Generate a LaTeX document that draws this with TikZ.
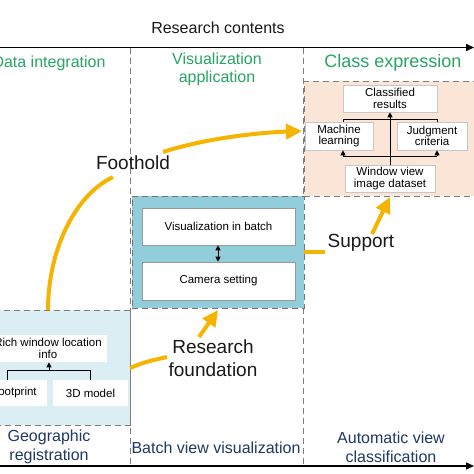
\documentclass[tikz,border=0pt]{standalone}
\usepackage{fontspec}
\setmainfont{Liberation Sans}
\usetikzlibrary{arrows.meta}
\definecolor{hgreen}{RGB}{40,165,100}
\definecolor{navy}{RGB}{31,56,100}
\definecolor{peach}{RGB}{251,229,214}
\definecolor{midblue}{RGB}{146,205,220}
\definecolor{paleblue}{RGB}{218,238,243}
\definecolor{gold}{RGB}{245,180,0}
\definecolor{dgray}{RGB}{125,125,125}
\tikzset{
  dashln/.style={draw=dgray, line width=1pt, dash pattern=on 6pt off 4pt},
  panel/.style={dashln, inner sep=0pt},
  wbox/.style={draw=black!22, fill=white, line width=0.6pt, inner sep=0pt, align=center, font=\fontsize{11.5}{11.5}\selectfont},
  head/.style={text=hgreen, font=\fontsize{16}{18}\selectfont, align=center},
  foot/.style={text=navy, font=\fontsize{16}{19}\selectfont, align=center},
  lbl/.style={font=\fontsize{19}{23}\selectfont, align=center, text=black!90},
  gar/.style={draw=gold, line width=4pt, -{Triangle[length=16pt,width=15pt]}},
  gln/.style={draw=gold, line width=4pt},
  axisar/.style={draw=black, line width=1.5pt, -{Triangle[length=8pt,width=7pt]}},
  sar/.style={draw=black, line width=1pt, -{Triangle[length=5pt,width=5pt]}},
  sln/.style={draw=black, line width=1pt},
  dar/.style={draw=black, line width=1pt, {Triangle[length=5pt,width=5pt]}-{Triangle[length=5pt,width=5pt]}},
}
\begin{document}
\begin{tikzpicture}[x=1pt,y=-1pt]
\useasboundingbox (0,0) rectangle (474,474);
\fill[white] (0,0) rectangle (474,474);

% vertical separators
\coordinate (v1t) at (130,47.5);
\coordinate (v1b) at (130,466);
\coordinate (v2t) at (303,47.5);
\coordinate (v2b) at (303,466);
\draw[dashln] (v1t) -- (v1b);
\draw[dashln] (v2t) -- (v2b);

% axes
\node[font=\fontsize{16}{19}\selectfont, text=black!90] (rc) at (218,28) {Research contents};
\coordinate (a1l) at (0,47.5);
\coordinate (a1r) at (474,47.5);
\coordinate (a2l) at (0,466);
\coordinate (a2r) at (474,466);
\draw[axisar] (a1l) -- (a1r);
\draw[axisar] (a2l) -- (a2r);

% headings
\node[head] (h1) at (49,63) {Data integration};
\node[head] (h2) at (217,69) {Visualization\\application};
\node[head, font=\fontsize{18}{20}\selectfont] (h3) at (393,63) {Class expression};

% footers
\node[foot] (f1) at (49,446.5) {Geographic\\registration};
\node[foot] (f2) at (216,448) {Batch view visualization};
\node[foot] (f3) at (391,447.5) {Automatic view\\classification};

% panels
\node[panel, fill=paleblue, minimum width=145pt, minimum height=115pt] (geo) at (57.5,367.5) {};
\node[panel, fill=midblue, draw=black!55, minimum width=172pt, minimum height=112pt] (vis) at (218,252) {};
\node[panel, fill=peach, minimum width=180pt, minimum height=115pt] (cls) at (394,138.5) {};

% geographic panel content
\node[wbox, draw=none, minimum width=118pt, minimum height=27pt] (rich) at (48,348.5) {Rich window location\\info};
\node[wbox, draw=none, minimum width=66pt, minimum height=26pt] (fp) at (14,393) {Footprint};
\node[wbox, draw=none, minimum width=75pt, minimum height=26pt] (md) at (90.5,393) {3D model};
\coordinate (gb) at (49,370);
\draw[sln] (fp.north -| 7,0) -- (7,370) -- (90,370) -- (md.north -| 90,0);
\draw[sar] (gb) -- (rich.south -| gb);

% visualization panel content
\node[wbox, draw=black!40, minimum width=153pt, minimum height=37pt] (vb) at (218.5,226.5) {Visualization in batch};
\node[wbox, draw=black!40, minimum width=153pt, minimum height=38pt] (cs) at (218.5,281) {Camera setting};
\draw[dar] (vb.south -| 218,0) -- (cs.north -| 218,0);

% class panel content
\node[wbox, minimum width=94pt, minimum height=27pt] (cr) at (390,98.5) {Classified\\results};
\node[wbox, minimum width=68pt, minimum height=28pt] (ml) at (339,136) {Machine\\learning};
\node[wbox, minimum width=70pt, minimum height=28pt] (jc) at (432,136) {Judgment\\criteria};
\node[wbox, minimum width=90pt, minimum height=27pt] (wv) at (390,178.5) {Window view\\image dataset};
\draw[sln] (ml.north -| 343,0) -- (343,119) -- (437,119) -- (jc.north -| 437,0);
\draw[sar] (wv.north) -- (cr.south);
\draw[sln] (343,156) -- (437,156);
\coordinate (b1) at (343,156);
\coordinate (b2) at (437,156);
\draw[sar] (b1) -- (ml.south -| b1);
\draw[sar] (b2) -- (jc.south -| b2);

% orange connectors and labels
\node[lbl] (fh) at (133,163) {Foothold};
\node[lbl] (sp) at (361,243) {Support};
\node[lbl] (rf) at (213,358) {Research\\foundation};

\coordinate (g1) at (48,310);
\coordinate (g2) at (113,177);
\coordinate (g3) at (163,152);
\coordinate (g4) at (302,131);
\draw[gln] (g1) .. controls (48,250) and (75,195) .. (g2);
\draw[gar] (g3) .. controls (200,140) and (250,133) .. (g4);

\coordinate (s1) at (304,252);
\coordinate (s2) at (325,252);
\coordinate (s3) at (372,234);
\coordinate (s4) at (390,197);
\draw[gln] (s1) -- (s2);
\draw[gar] (s3) -- (s4);

\coordinate (r1) at (130,368);
\coordinate (r2) at (167,357);
\coordinate (r3) at (199,337);
\coordinate (r4) at (218,310);
\draw[gln] (r1) .. controls (145,362) .. (r2);
\draw[gar] (r3) -- (r4);
\end{tikzpicture}
\end{document}
